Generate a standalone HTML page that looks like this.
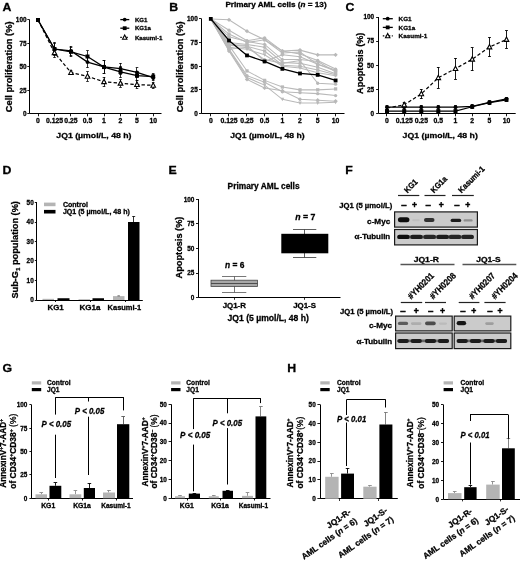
<!DOCTYPE html><html><head><meta charset="utf-8"><title>Figure</title><style>html,body{margin:0;padding:0;background:#fff;}svg{display:block;}text{font-family:'Liberation Sans', Arial, sans-serif;font-weight:bold;stroke:#000;stroke-width:0.28px;}</style></head><body>
<svg width="520" height="561" viewBox="0 0 520 561">
<rect width="520" height="561" fill="#fff"/>
<defs><filter id="bl" x="-50%" y="-100%" width="200%" height="300%"><feGaussianBlur stdDeviation="0.6"/></filter></defs>
<text transform="translate(2.6,11.1) scale(1.1,1)" font-size="11.2">A</text>
<line x1="29.5" y1="19.5" x2="29.5" y2="113.6" stroke="#000" stroke-width="1"/>
<line x1="27.3" y1="113.5" x2="29.5" y2="113.5" stroke="#000" stroke-width="0.9"/>
<text transform="translate(26.5,115.904)" font-size="6.4" text-anchor="end">0</text>
<line x1="27.3" y1="90.5" x2="29.5" y2="90.5" stroke="#000" stroke-width="0.9"/>
<text transform="translate(26.5,92.50399999999999)" font-size="6.4" text-anchor="end">25</text>
<line x1="27.3" y1="66.5" x2="29.5" y2="66.5" stroke="#000" stroke-width="0.9"/>
<text transform="translate(26.5,69.10399999999998)" font-size="6.4" text-anchor="end">50</text>
<line x1="27.3" y1="43.5" x2="29.5" y2="43.5" stroke="#000" stroke-width="0.9"/>
<text transform="translate(26.5,45.70399999999999)" font-size="6.4" text-anchor="end">75</text>
<line x1="27.3" y1="19.5" x2="29.5" y2="19.5" stroke="#000" stroke-width="0.9"/>
<text transform="translate(26.5,22.303999999999984)" font-size="6.4" text-anchor="end">100</text>
<line x1="29.5" y1="113.5" x2="161.5" y2="113.5" stroke="#000" stroke-width="1"/>
<line x1="38.5" y1="113.6" x2="38.5" y2="116.3" stroke="#000" stroke-width="0.9"/>
<text transform="translate(38,122.7) scale(1.05,1)" font-size="6.5" text-anchor="middle">0</text>
<line x1="54.5" y1="113.6" x2="54.5" y2="116.3" stroke="#000" stroke-width="0.9"/>
<text transform="translate(54.5,122.7) scale(1.05,1)" font-size="6.5" text-anchor="middle">0.125</text>
<line x1="70.5" y1="113.6" x2="70.5" y2="116.3" stroke="#000" stroke-width="0.9"/>
<text transform="translate(71,122.7) scale(1.05,1)" font-size="6.5" text-anchor="middle">0.25</text>
<line x1="87.5" y1="113.6" x2="87.5" y2="116.3" stroke="#000" stroke-width="0.9"/>
<text transform="translate(87.5,122.7) scale(1.05,1)" font-size="6.5" text-anchor="middle">0.5</text>
<line x1="104.5" y1="113.6" x2="104.5" y2="116.3" stroke="#000" stroke-width="0.9"/>
<text transform="translate(104,122.7) scale(1.05,1)" font-size="6.5" text-anchor="middle">1</text>
<line x1="120.5" y1="113.6" x2="120.5" y2="116.3" stroke="#000" stroke-width="0.9"/>
<text transform="translate(120.5,122.7) scale(1.05,1)" font-size="6.5" text-anchor="middle">2</text>
<line x1="136.5" y1="113.6" x2="136.5" y2="116.3" stroke="#000" stroke-width="0.9"/>
<text transform="translate(137,122.7) scale(1.05,1)" font-size="6.5" text-anchor="middle">5</text>
<line x1="153.5" y1="113.6" x2="153.5" y2="116.3" stroke="#000" stroke-width="0.9"/>
<text transform="translate(153.2,122.7) scale(1.05,1)" font-size="6.5" text-anchor="middle">10</text>
<text transform="translate(56.3,138.0) scale(1.1,1)" font-size="8.0" textLength="68.36" lengthAdjust="spacingAndGlyphs">JQ1 (µmol/L, 48 h)</text>
<text transform="translate(12.3,112.2) rotate(-90)" font-size="9.3" textLength="90.70" lengthAdjust="spacingAndGlyphs">Cell proliferation (%)</text>
<line x1="54.5" y1="43.39999999999999" x2="54.5" y2="54.63199999999999" stroke="#000" stroke-width="0.8"/>
<line x1="53.2" y1="43.5" x2="55.8" y2="43.5" stroke="#000" stroke-width="0.8"/>
<line x1="53.2" y1="54.5" x2="55.8" y2="54.5" stroke="#000" stroke-width="0.8"/>
<line x1="70.5" y1="46.207999999999984" x2="70.5" y2="55.56799999999999" stroke="#000" stroke-width="0.8"/>
<line x1="69.7" y1="46.5" x2="72.3" y2="46.5" stroke="#000" stroke-width="0.8"/>
<line x1="69.7" y1="55.5" x2="72.3" y2="55.5" stroke="#000" stroke-width="0.8"/>
<line x1="87.5" y1="56.50399999999999" x2="87.5" y2="67.73599999999999" stroke="#000" stroke-width="0.8"/>
<line x1="86.2" y1="56.5" x2="88.8" y2="56.5" stroke="#000" stroke-width="0.8"/>
<line x1="86.2" y1="67.5" x2="88.8" y2="67.5" stroke="#000" stroke-width="0.8"/>
<line x1="104.5" y1="60.24799999999999" x2="104.5" y2="73.35199999999999" stroke="#000" stroke-width="0.8"/>
<line x1="102.7" y1="60.5" x2="105.3" y2="60.5" stroke="#000" stroke-width="0.8"/>
<line x1="102.7" y1="73.5" x2="105.3" y2="73.5" stroke="#000" stroke-width="0.8"/>
<line x1="120.5" y1="63.05599999999999" x2="120.5" y2="74.28799999999998" stroke="#000" stroke-width="0.8"/>
<line x1="119.2" y1="63.5" x2="121.8" y2="63.5" stroke="#000" stroke-width="0.8"/>
<line x1="119.2" y1="74.5" x2="121.8" y2="74.5" stroke="#000" stroke-width="0.8"/>
<line x1="136.5" y1="67.73599999999999" x2="136.5" y2="77.09599999999999" stroke="#000" stroke-width="0.8"/>
<line x1="135.7" y1="67.5" x2="138.3" y2="67.5" stroke="#000" stroke-width="0.8"/>
<line x1="135.7" y1="77.5" x2="138.3" y2="77.5" stroke="#000" stroke-width="0.8"/>
<line x1="153.5" y1="74.756" x2="153.5" y2="80.37199999999999" stroke="#000" stroke-width="0.8"/>
<line x1="151.89999999999998" y1="74.5" x2="154.5" y2="74.5" stroke="#000" stroke-width="0.8"/>
<line x1="151.89999999999998" y1="80.5" x2="154.5" y2="80.5" stroke="#000" stroke-width="0.8"/>
<line x1="54.5" y1="42.463999999999984" x2="54.5" y2="55.56799999999999" stroke="#000" stroke-width="0.8"/>
<line x1="53.2" y1="42.5" x2="55.8" y2="42.5" stroke="#000" stroke-width="0.8"/>
<line x1="53.2" y1="55.5" x2="55.8" y2="55.5" stroke="#000" stroke-width="0.8"/>
<line x1="70.5" y1="47.14399999999999" x2="70.5" y2="56.50399999999999" stroke="#000" stroke-width="0.8"/>
<line x1="69.7" y1="47.5" x2="72.3" y2="47.5" stroke="#000" stroke-width="0.8"/>
<line x1="69.7" y1="56.5" x2="72.3" y2="56.5" stroke="#000" stroke-width="0.8"/>
<line x1="87.5" y1="50.88799999999999" x2="87.5" y2="62.11999999999999" stroke="#000" stroke-width="0.8"/>
<line x1="86.2" y1="50.5" x2="88.8" y2="50.5" stroke="#000" stroke-width="0.8"/>
<line x1="86.2" y1="62.5" x2="88.8" y2="62.5" stroke="#000" stroke-width="0.8"/>
<line x1="104.5" y1="60.52879999999999" x2="104.5" y2="73.63279999999999" stroke="#000" stroke-width="0.8"/>
<line x1="102.7" y1="60.5" x2="105.3" y2="60.5" stroke="#000" stroke-width="0.8"/>
<line x1="102.7" y1="73.5" x2="105.3" y2="73.5" stroke="#000" stroke-width="0.8"/>
<line x1="120.5" y1="66.332" x2="120.5" y2="77.564" stroke="#000" stroke-width="0.8"/>
<line x1="119.2" y1="66.5" x2="121.8" y2="66.5" stroke="#000" stroke-width="0.8"/>
<line x1="119.2" y1="77.5" x2="121.8" y2="77.5" stroke="#000" stroke-width="0.8"/>
<line x1="136.5" y1="71.012" x2="136.5" y2="80.37199999999999" stroke="#000" stroke-width="0.8"/>
<line x1="135.7" y1="71.5" x2="138.3" y2="71.5" stroke="#000" stroke-width="0.8"/>
<line x1="135.7" y1="80.5" x2="138.3" y2="80.5" stroke="#000" stroke-width="0.8"/>
<line x1="153.5" y1="73.82" x2="153.5" y2="79.43599999999999" stroke="#000" stroke-width="0.8"/>
<line x1="151.89999999999998" y1="73.5" x2="154.5" y2="73.5" stroke="#000" stroke-width="0.8"/>
<line x1="151.89999999999998" y1="79.5" x2="154.5" y2="79.5" stroke="#000" stroke-width="0.8"/>
<line x1="54.5" y1="48.079999999999984" x2="54.5" y2="57.43999999999999" stroke="#000" stroke-width="0.8"/>
<line x1="53.2" y1="48.5" x2="55.8" y2="48.5" stroke="#000" stroke-width="0.8"/>
<line x1="53.2" y1="57.5" x2="55.8" y2="57.5" stroke="#000" stroke-width="0.8"/>
<line x1="70.5" y1="70.7312" x2="70.5" y2="74.4752" stroke="#000" stroke-width="0.8"/>
<line x1="69.7" y1="70.5" x2="72.3" y2="70.5" stroke="#000" stroke-width="0.8"/>
<line x1="69.7" y1="74.5" x2="72.3" y2="74.5" stroke="#000" stroke-width="0.8"/>
<line x1="87.5" y1="71.6672" x2="87.5" y2="81.0272" stroke="#000" stroke-width="0.8"/>
<line x1="86.2" y1="71.5" x2="88.8" y2="71.5" stroke="#000" stroke-width="0.8"/>
<line x1="86.2" y1="81.5" x2="88.8" y2="81.5" stroke="#000" stroke-width="0.8"/>
<line x1="104.5" y1="77.09599999999999" x2="104.5" y2="86.45599999999999" stroke="#000" stroke-width="0.8"/>
<line x1="102.7" y1="77.5" x2="105.3" y2="77.5" stroke="#000" stroke-width="0.8"/>
<line x1="102.7" y1="86.5" x2="105.3" y2="86.5" stroke="#000" stroke-width="0.8"/>
<line x1="120.5" y1="79.52959999999999" x2="120.5" y2="87.01759999999999" stroke="#000" stroke-width="0.8"/>
<line x1="119.2" y1="79.5" x2="121.8" y2="79.5" stroke="#000" stroke-width="0.8"/>
<line x1="119.2" y1="87.5" x2="121.8" y2="87.5" stroke="#000" stroke-width="0.8"/>
<line x1="136.5" y1="80.83999999999999" x2="136.5" y2="88.32799999999999" stroke="#000" stroke-width="0.8"/>
<line x1="135.7" y1="80.5" x2="138.3" y2="80.5" stroke="#000" stroke-width="0.8"/>
<line x1="135.7" y1="88.5" x2="138.3" y2="88.5" stroke="#000" stroke-width="0.8"/>
<line x1="153.5" y1="82.52479999999998" x2="153.5" y2="88.1408" stroke="#000" stroke-width="0.8"/>
<line x1="151.89999999999998" y1="82.5" x2="154.5" y2="82.5" stroke="#000" stroke-width="0.8"/>
<line x1="151.89999999999998" y1="88.5" x2="154.5" y2="88.5" stroke="#000" stroke-width="0.8"/>
<polyline points="38.00,20.00 54.50,52.76 71.00,72.60 87.50,76.35 104.00,81.78 120.50,83.27 137.00,84.58 153.20,85.33" fill="none" stroke="#000" stroke-width="1.2" stroke-dasharray="3.4,2.2"/>
<polyline points="38.00,20.00 54.50,49.02 71.00,50.89 87.50,62.12 104.00,66.80 120.50,68.67 137.00,72.42 153.20,77.56" fill="none" stroke="#000" stroke-width="1.25"/>
<polyline points="38.00,20.00 54.50,49.02 71.00,51.82 87.50,56.50 104.00,67.08 120.50,71.95 137.00,75.69 153.20,76.63" fill="none" stroke="#000" stroke-width="1.25"/>
<circle cx="38.00" cy="20.00" r="1.95" fill="#000"/>
<circle cx="54.50" cy="49.02" r="1.95" fill="#000"/>
<circle cx="71.00" cy="50.89" r="1.95" fill="#000"/>
<circle cx="87.50" cy="62.12" r="1.95" fill="#000"/>
<circle cx="104.00" cy="66.80" r="1.95" fill="#000"/>
<circle cx="120.50" cy="68.67" r="1.95" fill="#000"/>
<circle cx="137.00" cy="72.42" r="1.95" fill="#000"/>
<circle cx="153.20" cy="77.56" r="1.95" fill="#000"/>
<rect x="36.00" y="18.00" width="4.00" height="4.00" fill="#000"/>
<rect x="52.50" y="47.02" width="4.00" height="4.00" fill="#000"/>
<rect x="69.00" y="49.82" width="4.00" height="4.00" fill="#000"/>
<rect x="85.50" y="54.50" width="4.00" height="4.00" fill="#000"/>
<rect x="102.00" y="65.08" width="4.00" height="4.00" fill="#000"/>
<rect x="118.50" y="69.95" width="4.00" height="4.00" fill="#000"/>
<rect x="135.00" y="73.69" width="4.00" height="4.00" fill="#000"/>
<rect x="151.20" y="74.63" width="4.00" height="4.00" fill="#000"/>
<polygon points="54.50,50.24 56.81,54.65 52.19,54.65" fill="#fff" stroke="#000" stroke-width="1.1"/>
<polygon points="71.00,70.08 73.31,74.49 68.69,74.49" fill="#fff" stroke="#000" stroke-width="1.1"/>
<polygon points="87.50,73.83 89.81,78.24 85.19,78.24" fill="#fff" stroke="#000" stroke-width="1.1"/>
<polygon points="104.00,79.26 106.31,83.67 101.69,83.67" fill="#fff" stroke="#000" stroke-width="1.1"/>
<polygon points="120.50,80.75 122.81,85.16 118.19,85.16" fill="#fff" stroke="#000" stroke-width="1.1"/>
<polygon points="137.00,82.06 139.31,86.47 134.69,86.47" fill="#fff" stroke="#000" stroke-width="1.1"/>
<polygon points="153.20,82.81 155.51,87.22 150.89,87.22" fill="#fff" stroke="#000" stroke-width="1.1"/>
<line x1="120.3" y1="19.6" x2="129.3" y2="19.6" stroke="#000" stroke-width="1.3"/>
<circle cx="124.70" cy="19.60" r="1.90" fill="#000"/>
<text transform="translate(134.9,21.6) scale(1.04,1)" font-size="5.9">KG1</text>
<line x1="120.3" y1="28.2" x2="129.3" y2="28.2" stroke="#000" stroke-width="1.3"/>
<rect x="122.80" y="26.30" width="3.80" height="3.80" fill="#000"/>
<text transform="translate(134.9,30.3) scale(1.04,1)" font-size="5.9">KG1a</text>
<line x1="120.3" y1="37.4" x2="129.3" y2="37.4" stroke="#000" stroke-width="1.2" stroke-dasharray="1.5,1.5"/>
<polygon points="124.70,35.00 126.90,39.20 122.50,39.20" fill="#fff" stroke="#000" stroke-width="1.1"/>
<text transform="translate(134.9,39.6) scale(1.04,1)" font-size="5.9">Kasumi-1</text>
<text transform="translate(169.2,11.1) scale(1.1,1)" font-size="11.2">B</text>
<line x1="201.5" y1="18.5" x2="201.5" y2="113.5" stroke="#000" stroke-width="1"/>
<line x1="199.0" y1="113.5" x2="201.3" y2="113.5" stroke="#000" stroke-width="0.9"/>
<text transform="translate(197.7,115.804)" font-size="6.4" text-anchor="end">0</text>
<line x1="199.0" y1="89.5" x2="201.3" y2="89.5" stroke="#000" stroke-width="0.9"/>
<text transform="translate(197.7,92.154)" font-size="6.4" text-anchor="end">25</text>
<line x1="199.0" y1="66.5" x2="201.3" y2="66.5" stroke="#000" stroke-width="0.9"/>
<text transform="translate(197.7,68.504)" font-size="6.4" text-anchor="end">50</text>
<line x1="199.0" y1="42.5" x2="201.3" y2="42.5" stroke="#000" stroke-width="0.9"/>
<text transform="translate(197.7,44.854)" font-size="6.4" text-anchor="end">75</text>
<line x1="199.0" y1="18.5" x2="201.3" y2="18.5" stroke="#000" stroke-width="0.9"/>
<text transform="translate(197.7,21.204000000000004)" font-size="6.4" text-anchor="end">100</text>
<line x1="201.3" y1="113.5" x2="344.5" y2="113.5" stroke="#000" stroke-width="1"/>
<line x1="210.5" y1="113.5" x2="210.5" y2="116.3" stroke="#000" stroke-width="0.9"/>
<text transform="translate(210.8,122.7) scale(1.05,1)" font-size="6.5" text-anchor="middle">0</text>
<line x1="228.5" y1="113.5" x2="228.5" y2="116.3" stroke="#000" stroke-width="0.9"/>
<text transform="translate(229,122.7) scale(1.05,1)" font-size="6.5" text-anchor="middle">0.125</text>
<line x1="246.5" y1="113.5" x2="246.5" y2="116.3" stroke="#000" stroke-width="0.9"/>
<text transform="translate(247,122.7) scale(1.05,1)" font-size="6.5" text-anchor="middle">0.25</text>
<line x1="264.5" y1="113.5" x2="264.5" y2="116.3" stroke="#000" stroke-width="0.9"/>
<text transform="translate(264.6,122.7) scale(1.05,1)" font-size="6.5" text-anchor="middle">0.5</text>
<line x1="282.5" y1="113.5" x2="282.5" y2="116.3" stroke="#000" stroke-width="0.9"/>
<text transform="translate(282.4,122.7) scale(1.05,1)" font-size="6.5" text-anchor="middle">1</text>
<line x1="300.5" y1="113.5" x2="300.5" y2="116.3" stroke="#000" stroke-width="0.9"/>
<text transform="translate(300,122.7) scale(1.05,1)" font-size="6.5" text-anchor="middle">2</text>
<line x1="317.5" y1="113.5" x2="317.5" y2="116.3" stroke="#000" stroke-width="0.9"/>
<text transform="translate(317.7,122.7) scale(1.05,1)" font-size="6.5" text-anchor="middle">5</text>
<line x1="335.5" y1="113.5" x2="335.5" y2="116.3" stroke="#000" stroke-width="0.9"/>
<text transform="translate(335.6,122.7) scale(1.05,1)" font-size="6.5" text-anchor="middle">10</text>
<text transform="translate(230.2,138.0) scale(1.1,1)" font-size="8.0" textLength="67.73" lengthAdjust="spacingAndGlyphs">JQ1 (µmol/L, 48 h)</text>
<text transform="translate(182.8,112.2) rotate(-90)" font-size="9.3" textLength="90.70" lengthAdjust="spacingAndGlyphs">Cell proliferation (%)</text>
<text transform="translate(225.4,6.6) scale(1.1,1)" font-size="7.5" textLength="92.00" lengthAdjust="spacingAndGlyphs">Primary AML cells (<tspan font-style="italic">n</tspan> = 13)</text>
<polyline points="210.80,18.90 229.00,19.85 247.00,31.20 264.60,39.71 282.40,51.06 300.00,50.12 317.70,54.85 335.60,54.85" fill="none" stroke="#b9b9b9" stroke-width="1.05"/>
<polyline points="210.80,18.90 229.00,30.25 247.00,40.66 264.60,37.82 282.40,51.06 300.00,53.90 317.70,60.52 335.60,69.04" fill="none" stroke="#b9b9b9" stroke-width="1.05"/>
<polyline points="210.80,18.90 229.00,34.04 247.00,42.55 264.60,39.71 282.40,52.96 300.00,52.01 317.70,64.31 335.60,70.93" fill="none" stroke="#b9b9b9" stroke-width="1.05"/>
<polyline points="210.80,18.90 229.00,36.87 247.00,41.60 264.60,44.44 282.40,59.58 300.00,59.58 317.70,61.47 335.60,71.88" fill="none" stroke="#b9b9b9" stroke-width="1.05"/>
<polyline points="210.80,18.90 229.00,42.55 247.00,44.44 264.60,47.28 282.40,62.42 300.00,63.36 317.70,67.15 335.60,73.77" fill="none" stroke="#b9b9b9" stroke-width="1.05"/>
<polyline points="210.80,18.90 229.00,45.39 247.00,46.33 264.60,51.06 282.40,65.25 300.00,66.20 317.70,69.98 335.60,74.71" fill="none" stroke="#b9b9b9" stroke-width="1.05"/>
<polyline points="210.80,18.90 229.00,47.28 247.00,49.17 264.60,54.85 282.40,66.20 300.00,68.09 317.70,72.82 335.60,75.66" fill="none" stroke="#b9b9b9" stroke-width="1.05"/>
<polyline points="210.80,18.90 229.00,49.17 247.00,47.28 264.60,59.58 282.40,63.36 300.00,60.52 317.70,83.23 335.60,84.17" fill="none" stroke="#b9b9b9" stroke-width="1.05"/>
<polyline points="210.80,18.90 229.00,44.44 247.00,45.39 264.60,61.47 282.40,54.85 300.00,56.74 317.70,64.31 335.60,69.98" fill="none" stroke="#b9b9b9" stroke-width="1.05"/>
<polyline points="210.80,18.90 229.00,45.39 247.00,70.93 264.60,80.39 282.40,87.01 300.00,89.85 317.70,89.85 335.60,88.90" fill="none" stroke="#b9b9b9" stroke-width="1.05"/>
<polyline points="210.80,18.90 229.00,49.17 247.00,75.66 264.60,82.28 282.40,91.74 300.00,92.69 317.70,93.63 335.60,95.53" fill="none" stroke="#b9b9b9" stroke-width="1.05"/>
<polyline points="210.80,18.90 229.00,51.06 247.00,79.44 264.60,87.96 282.40,90.80 300.00,99.31 317.70,100.26 335.60,101.20" fill="none" stroke="#b9b9b9" stroke-width="1.05"/>
<polyline points="210.80,18.90 229.00,50.12 247.00,77.55 264.60,85.12 282.40,99.31 300.00,103.09 317.70,103.09 335.60,102.15" fill="none" stroke="#b9b9b9" stroke-width="1.05"/>
<polygon points="229.00,17.70 231.15,19.85 229.00,21.99 226.85,19.85" fill="#b9b9b9"/>
<polygon points="247.00,29.05 249.15,31.20 247.00,33.34 244.85,31.20" fill="#b9b9b9"/>
<polygon points="264.60,37.57 266.75,39.71 264.60,41.86 262.46,39.71" fill="#b9b9b9"/>
<polygon points="282.40,48.92 284.54,51.06 282.40,53.21 280.25,51.06" fill="#b9b9b9"/>
<polygon points="300.00,47.97 302.14,50.12 300.00,52.26 297.86,50.12" fill="#b9b9b9"/>
<polygon points="317.70,52.70 319.84,54.85 317.70,56.99 315.56,54.85" fill="#b9b9b9"/>
<polygon points="335.60,52.70 337.75,54.85 335.60,56.99 333.46,54.85" fill="#b9b9b9"/>
<circle cx="229.00" cy="30.25" r="1.65" fill="#b9b9b9"/>
<circle cx="247.00" cy="40.66" r="1.65" fill="#b9b9b9"/>
<circle cx="264.60" cy="37.82" r="1.65" fill="#b9b9b9"/>
<circle cx="282.40" cy="51.06" r="1.65" fill="#b9b9b9"/>
<circle cx="300.00" cy="53.90" r="1.65" fill="#b9b9b9"/>
<circle cx="317.70" cy="60.52" r="1.65" fill="#b9b9b9"/>
<circle cx="335.60" cy="69.04" r="1.65" fill="#b9b9b9"/>
<rect x="227.35" y="32.39" width="3.30" height="3.30" fill="#b9b9b9"/>
<rect x="245.35" y="40.90" width="3.30" height="3.30" fill="#b9b9b9"/>
<rect x="262.95" y="38.06" width="3.30" height="3.30" fill="#b9b9b9"/>
<rect x="280.75" y="51.31" width="3.30" height="3.30" fill="#b9b9b9"/>
<rect x="298.35" y="50.36" width="3.30" height="3.30" fill="#b9b9b9"/>
<rect x="316.05" y="62.66" width="3.30" height="3.30" fill="#b9b9b9"/>
<rect x="333.95" y="69.28" width="3.30" height="3.30" fill="#b9b9b9"/>
<polygon points="229.00,34.73 231.15,36.87 229.00,39.02 226.85,36.87" fill="#b9b9b9"/>
<polygon points="247.00,39.46 249.15,41.60 247.00,43.75 244.85,41.60" fill="#b9b9b9"/>
<polygon points="264.60,42.30 266.75,44.44 264.60,46.59 262.46,44.44" fill="#b9b9b9"/>
<polygon points="282.40,57.43 284.54,59.58 282.40,61.72 280.25,59.58" fill="#b9b9b9"/>
<polygon points="300.00,57.43 302.14,59.58 300.00,61.72 297.86,59.58" fill="#b9b9b9"/>
<polygon points="317.70,59.33 319.84,61.47 317.70,63.62 315.56,61.47" fill="#b9b9b9"/>
<polygon points="335.60,69.73 337.75,71.88 335.60,74.02 333.46,71.88" fill="#b9b9b9"/>
<circle cx="229.00" cy="42.55" r="1.65" fill="#b9b9b9"/>
<circle cx="247.00" cy="44.44" r="1.65" fill="#b9b9b9"/>
<circle cx="264.60" cy="47.28" r="1.65" fill="#b9b9b9"/>
<circle cx="282.40" cy="62.42" r="1.65" fill="#b9b9b9"/>
<circle cx="300.00" cy="63.36" r="1.65" fill="#b9b9b9"/>
<circle cx="317.70" cy="67.15" r="1.65" fill="#b9b9b9"/>
<circle cx="335.60" cy="73.77" r="1.65" fill="#b9b9b9"/>
<rect x="227.35" y="43.74" width="3.30" height="3.30" fill="#b9b9b9"/>
<rect x="245.35" y="44.68" width="3.30" height="3.30" fill="#b9b9b9"/>
<rect x="262.95" y="49.41" width="3.30" height="3.30" fill="#b9b9b9"/>
<rect x="280.75" y="63.60" width="3.30" height="3.30" fill="#b9b9b9"/>
<rect x="298.35" y="64.55" width="3.30" height="3.30" fill="#b9b9b9"/>
<rect x="316.05" y="68.33" width="3.30" height="3.30" fill="#b9b9b9"/>
<rect x="333.95" y="73.06" width="3.30" height="3.30" fill="#b9b9b9"/>
<polygon points="229.00,49.26 230.81,45.80 227.19,45.80" fill="#b9b9b9"/>
<polygon points="247.00,51.15 248.81,47.69 245.19,47.69" fill="#b9b9b9"/>
<polygon points="264.60,56.83 266.42,53.36 262.79,53.36" fill="#b9b9b9"/>
<polygon points="282.40,68.18 284.21,64.72 280.58,64.72" fill="#b9b9b9"/>
<polygon points="300.00,70.07 301.81,66.61 298.19,66.61" fill="#b9b9b9"/>
<polygon points="317.70,74.80 319.51,71.34 315.88,71.34" fill="#b9b9b9"/>
<polygon points="335.60,77.64 337.42,74.17 333.79,74.17" fill="#b9b9b9"/>
<circle cx="229.00" cy="49.17" r="1.65" fill="#b9b9b9"/>
<circle cx="247.00" cy="47.28" r="1.65" fill="#b9b9b9"/>
<circle cx="264.60" cy="59.58" r="1.65" fill="#b9b9b9"/>
<circle cx="282.40" cy="63.36" r="1.65" fill="#b9b9b9"/>
<circle cx="300.00" cy="60.52" r="1.65" fill="#b9b9b9"/>
<circle cx="317.70" cy="83.23" r="1.65" fill="#b9b9b9"/>
<circle cx="335.60" cy="84.17" r="1.65" fill="#b9b9b9"/>
<polygon points="229.00,42.30 231.15,44.44 229.00,46.59 226.85,44.44" fill="#b9b9b9"/>
<polygon points="247.00,43.24 249.15,45.39 247.00,47.53 244.85,45.39" fill="#b9b9b9"/>
<polygon points="264.60,59.33 266.75,61.47 264.60,63.62 262.46,61.47" fill="#b9b9b9"/>
<polygon points="282.40,52.70 284.54,54.85 282.40,56.99 280.25,54.85" fill="#b9b9b9"/>
<polygon points="300.00,54.59 302.14,56.74 300.00,58.89 297.86,56.74" fill="#b9b9b9"/>
<polygon points="317.70,62.16 319.84,64.31 317.70,66.45 315.56,64.31" fill="#b9b9b9"/>
<polygon points="335.60,67.84 337.75,69.98 335.60,72.13 333.46,69.98" fill="#b9b9b9"/>
<rect x="227.35" y="43.74" width="3.30" height="3.30" fill="#b9b9b9"/>
<rect x="245.35" y="69.28" width="3.30" height="3.30" fill="#b9b9b9"/>
<rect x="262.95" y="78.74" width="3.30" height="3.30" fill="#b9b9b9"/>
<rect x="280.75" y="85.36" width="3.30" height="3.30" fill="#b9b9b9"/>
<rect x="298.35" y="88.20" width="3.30" height="3.30" fill="#b9b9b9"/>
<rect x="316.05" y="88.20" width="3.30" height="3.30" fill="#b9b9b9"/>
<rect x="333.95" y="87.25" width="3.30" height="3.30" fill="#b9b9b9"/>
<circle cx="229.00" cy="49.17" r="1.65" fill="#b9b9b9"/>
<circle cx="247.00" cy="75.66" r="1.65" fill="#b9b9b9"/>
<circle cx="264.60" cy="82.28" r="1.65" fill="#b9b9b9"/>
<circle cx="282.40" cy="91.74" r="1.65" fill="#b9b9b9"/>
<circle cx="300.00" cy="92.69" r="1.65" fill="#b9b9b9"/>
<circle cx="317.70" cy="93.63" r="1.65" fill="#b9b9b9"/>
<circle cx="335.60" cy="95.53" r="1.65" fill="#b9b9b9"/>
<polygon points="229.00,48.92 231.15,51.06 229.00,53.21 226.85,51.06" fill="#b9b9b9"/>
<polygon points="247.00,77.30 249.15,79.44 247.00,81.59 244.85,79.44" fill="#b9b9b9"/>
<polygon points="264.60,85.81 266.75,87.96 264.60,90.10 262.46,87.96" fill="#b9b9b9"/>
<polygon points="282.40,88.65 284.54,90.80 282.40,92.94 280.25,90.80" fill="#b9b9b9"/>
<polygon points="300.00,97.17 302.14,99.31 300.00,101.45 297.86,99.31" fill="#b9b9b9"/>
<polygon points="317.70,98.11 319.84,100.26 317.70,102.40 315.56,100.26" fill="#b9b9b9"/>
<polygon points="335.60,99.06 337.75,101.20 335.60,103.35 333.46,101.20" fill="#b9b9b9"/>
<polygon points="229.00,52.10 230.81,48.63 227.19,48.63" fill="#b9b9b9"/>
<polygon points="247.00,79.53 248.81,76.07 245.19,76.07" fill="#b9b9b9"/>
<polygon points="264.60,87.10 266.42,83.64 262.79,83.64" fill="#b9b9b9"/>
<polygon points="282.40,101.29 284.21,97.83 280.58,97.83" fill="#b9b9b9"/>
<polygon points="300.00,105.07 301.81,101.61 298.19,101.61" fill="#b9b9b9"/>
<polygon points="317.70,105.07 319.51,101.61 315.88,101.61" fill="#b9b9b9"/>
<polygon points="335.60,104.13 337.42,100.66 333.79,100.66" fill="#b9b9b9"/>
<polyline points="210.80,18.90 229.00,40.47 247.00,55.42 264.60,61.47 282.40,68.85 300.00,73.48 317.70,74.90 335.60,80.48" fill="none" stroke="#000" stroke-width="1.3"/>
<rect x="208.90" y="17.00" width="3.80" height="3.80" fill="#000"/>
<rect x="227.10" y="38.57" width="3.80" height="3.80" fill="#000"/>
<rect x="245.10" y="53.52" width="3.80" height="3.80" fill="#000"/>
<rect x="262.70" y="59.57" width="3.80" height="3.80" fill="#000"/>
<rect x="280.50" y="66.95" width="3.80" height="3.80" fill="#000"/>
<rect x="298.10" y="71.58" width="3.80" height="3.80" fill="#000"/>
<rect x="315.80" y="73.00" width="3.80" height="3.80" fill="#000"/>
<rect x="333.70" y="78.58" width="3.80" height="3.80" fill="#000"/>
<text transform="translate(345.5,11.1) scale(1.1,1)" font-size="11.2">C</text>
<line x1="378.5" y1="17" x2="378.5" y2="113.3" stroke="#000" stroke-width="1"/>
<line x1="376.1" y1="113.5" x2="378.3" y2="113.5" stroke="#000" stroke-width="0.9"/>
<text transform="translate(374.1,115.604)" font-size="6.4" text-anchor="end">0</text>
<line x1="376.1" y1="89.5" x2="378.3" y2="89.5" stroke="#000" stroke-width="0.9"/>
<text transform="translate(374.1,91.554)" font-size="6.4" text-anchor="end">25</text>
<line x1="376.1" y1="65.5" x2="378.3" y2="65.5" stroke="#000" stroke-width="0.9"/>
<text transform="translate(374.1,67.50399999999999)" font-size="6.4" text-anchor="end">50</text>
<line x1="376.1" y1="41.5" x2="378.3" y2="41.5" stroke="#000" stroke-width="0.9"/>
<text transform="translate(374.1,43.45400000000001)" font-size="6.4" text-anchor="end">75</text>
<line x1="376.1" y1="17.5" x2="378.3" y2="17.5" stroke="#000" stroke-width="0.9"/>
<text transform="translate(374.1,19.403999999999993)" font-size="6.4" text-anchor="end">100</text>
<line x1="378.3" y1="113.5" x2="515.7" y2="113.5" stroke="#000" stroke-width="1"/>
<line x1="386.5" y1="113.3" x2="386.5" y2="116.3" stroke="#000" stroke-width="0.9"/>
<text transform="translate(387,122.7) scale(1.05,1)" font-size="6.5" text-anchor="middle">0</text>
<line x1="404.5" y1="113.3" x2="404.5" y2="116.3" stroke="#000" stroke-width="0.9"/>
<text transform="translate(404.2,122.7) scale(1.05,1)" font-size="6.5" text-anchor="middle">0.125</text>
<line x1="421.5" y1="113.3" x2="421.5" y2="116.3" stroke="#000" stroke-width="0.9"/>
<text transform="translate(421.3,122.7) scale(1.05,1)" font-size="6.5" text-anchor="middle">0.25</text>
<line x1="438.5" y1="113.3" x2="438.5" y2="116.3" stroke="#000" stroke-width="0.9"/>
<text transform="translate(438.3,122.7) scale(1.05,1)" font-size="6.5" text-anchor="middle">0.5</text>
<line x1="455.5" y1="113.3" x2="455.5" y2="116.3" stroke="#000" stroke-width="0.9"/>
<text transform="translate(455.5,122.7) scale(1.05,1)" font-size="6.5" text-anchor="middle">1</text>
<line x1="472.5" y1="113.3" x2="472.5" y2="116.3" stroke="#000" stroke-width="0.9"/>
<text transform="translate(472.2,122.7) scale(1.05,1)" font-size="6.5" text-anchor="middle">2</text>
<line x1="489.5" y1="113.3" x2="489.5" y2="116.3" stroke="#000" stroke-width="0.9"/>
<text transform="translate(489.5,122.7) scale(1.05,1)" font-size="6.5" text-anchor="middle">5</text>
<line x1="506.5" y1="113.3" x2="506.5" y2="116.3" stroke="#000" stroke-width="0.9"/>
<text transform="translate(506.5,122.7) scale(1.05,1)" font-size="6.5" text-anchor="middle">10</text>
<text transform="translate(402.6,138.0) scale(1.1,1)" font-size="8.0" textLength="68.36" lengthAdjust="spacingAndGlyphs">JQ1 (µmol/L, 48 h)</text>
<text transform="translate(362.8,93.9) rotate(-90)" font-size="9.3" textLength="61.20" lengthAdjust="spacingAndGlyphs">Apoptosis (%)</text>
<line x1="386.5" y1="106.085" x2="386.5" y2="109.93299999999999" stroke="#000" stroke-width="0.9"/>
<line x1="385.6" y1="106.5" x2="388.4" y2="106.5" stroke="#000" stroke-width="0.9"/>
<line x1="385.6" y1="109.5" x2="388.4" y2="109.5" stroke="#000" stroke-width="0.9"/>
<line x1="404.5" y1="102.4294" x2="404.5" y2="107.23939999999999" stroke="#000" stroke-width="0.9"/>
<line x1="402.8" y1="102.5" x2="405.59999999999997" y2="102.5" stroke="#000" stroke-width="0.9"/>
<line x1="402.8" y1="107.5" x2="405.59999999999997" y2="107.5" stroke="#000" stroke-width="0.9"/>
<line x1="421.5" y1="89.0576" x2="421.5" y2="98.6776" stroke="#000" stroke-width="0.9"/>
<line x1="419.90000000000003" y1="89.5" x2="422.7" y2="89.5" stroke="#000" stroke-width="0.9"/>
<line x1="419.90000000000003" y1="98.5" x2="422.7" y2="98.5" stroke="#000" stroke-width="0.9"/>
<line x1="438.5" y1="67.124" x2="438.5" y2="88.288" stroke="#000" stroke-width="0.9"/>
<line x1="436.90000000000003" y1="67.5" x2="439.7" y2="67.5" stroke="#000" stroke-width="0.9"/>
<line x1="436.90000000000003" y1="88.5" x2="439.7" y2="88.5" stroke="#000" stroke-width="0.9"/>
<line x1="455.5" y1="58.0812" x2="455.5" y2="79.2452" stroke="#000" stroke-width="0.9"/>
<line x1="454.1" y1="58.5" x2="456.9" y2="58.5" stroke="#000" stroke-width="0.9"/>
<line x1="454.1" y1="79.5" x2="456.9" y2="79.5" stroke="#000" stroke-width="0.9"/>
<line x1="472.5" y1="47.691599999999994" x2="472.5" y2="70.77959999999999" stroke="#000" stroke-width="0.9"/>
<line x1="470.8" y1="47.5" x2="473.59999999999997" y2="47.5" stroke="#000" stroke-width="0.9"/>
<line x1="470.8" y1="70.5" x2="473.59999999999997" y2="70.5" stroke="#000" stroke-width="0.9"/>
<line x1="489.5" y1="37.39819999999999" x2="489.5" y2="56.63819999999999" stroke="#000" stroke-width="0.9"/>
<line x1="488.1" y1="37.5" x2="490.9" y2="37.5" stroke="#000" stroke-width="0.9"/>
<line x1="488.1" y1="56.5" x2="490.9" y2="56.5" stroke="#000" stroke-width="0.9"/>
<line x1="506.5" y1="30.8566" x2="506.5" y2="48.1726" stroke="#000" stroke-width="0.9"/>
<line x1="505.1" y1="30.5" x2="507.9" y2="30.5" stroke="#000" stroke-width="0.9"/>
<line x1="505.1" y1="48.5" x2="507.9" y2="48.5" stroke="#000" stroke-width="0.9"/>
<line x1="386.5" y1="105.79639999999999" x2="386.5" y2="112.5304" stroke="#000" stroke-width="0.9"/>
<line x1="385.6" y1="105.5" x2="388.4" y2="105.5" stroke="#000" stroke-width="0.9"/>
<line x1="385.6" y1="112.5" x2="388.4" y2="112.5" stroke="#000" stroke-width="0.9"/>
<line x1="404.5" y1="105.79639999999999" x2="404.5" y2="112.5304" stroke="#000" stroke-width="0.9"/>
<line x1="402.8" y1="105.5" x2="405.59999999999997" y2="105.5" stroke="#000" stroke-width="0.9"/>
<line x1="402.8" y1="112.5" x2="405.59999999999997" y2="112.5" stroke="#000" stroke-width="0.9"/>
<line x1="421.5" y1="105.79639999999999" x2="421.5" y2="112.5304" stroke="#000" stroke-width="0.9"/>
<line x1="419.90000000000003" y1="105.5" x2="422.7" y2="105.5" stroke="#000" stroke-width="0.9"/>
<line x1="419.90000000000003" y1="112.5" x2="422.7" y2="112.5" stroke="#000" stroke-width="0.9"/>
<line x1="438.5" y1="105.79639999999999" x2="438.5" y2="112.5304" stroke="#000" stroke-width="0.9"/>
<line x1="436.90000000000003" y1="105.5" x2="439.7" y2="105.5" stroke="#000" stroke-width="0.9"/>
<line x1="436.90000000000003" y1="112.5" x2="439.7" y2="112.5" stroke="#000" stroke-width="0.9"/>
<line x1="455.5" y1="105.79639999999999" x2="455.5" y2="112.5304" stroke="#000" stroke-width="0.9"/>
<line x1="454.1" y1="105.5" x2="456.9" y2="105.5" stroke="#000" stroke-width="0.9"/>
<line x1="454.1" y1="112.5" x2="456.9" y2="112.5" stroke="#000" stroke-width="0.9"/>
<line x1="472.5" y1="104.9306" x2="472.5" y2="108.20139999999999" stroke="#000" stroke-width="0.9"/>
<line x1="470.8" y1="104.5" x2="473.59999999999997" y2="104.5" stroke="#000" stroke-width="0.9"/>
<line x1="470.8" y1="108.5" x2="473.59999999999997" y2="108.5" stroke="#000" stroke-width="0.9"/>
<line x1="489.5" y1="100.9864" x2="489.5" y2="104.161" stroke="#000" stroke-width="0.9"/>
<line x1="488.1" y1="100.5" x2="490.9" y2="100.5" stroke="#000" stroke-width="0.9"/>
<line x1="488.1" y1="104.5" x2="490.9" y2="104.5" stroke="#000" stroke-width="0.9"/>
<line x1="506.5" y1="97.42699999999999" x2="506.5" y2="101.27499999999999" stroke="#000" stroke-width="0.9"/>
<line x1="505.1" y1="97.5" x2="507.9" y2="97.5" stroke="#000" stroke-width="0.9"/>
<line x1="505.1" y1="101.5" x2="507.9" y2="101.5" stroke="#000" stroke-width="0.9"/>
<polyline points="387.00,108.01 404.20,104.83 421.30,93.87 438.30,77.71 455.50,68.66 472.20,59.24 489.50,47.02 506.50,39.51" fill="none" stroke="#000" stroke-width="1.2" stroke-dasharray="3.4,2.2"/>
<polyline points="387.00,107.24 404.20,107.24 421.30,107.24 438.30,107.24 455.50,107.24 472.20,106.37 489.50,102.43 506.50,98.87" fill="none" stroke="#000" stroke-width="1.25"/>
<polyline points="387.00,111.09 404.20,111.09 421.30,111.09 438.30,111.09 455.50,111.09 472.20,106.76 489.50,102.72 506.50,99.83" fill="none" stroke="#000" stroke-width="1.25"/>
<circle cx="387.00" cy="107.24" r="1.95" fill="#000"/>
<circle cx="404.20" cy="107.24" r="1.95" fill="#000"/>
<circle cx="421.30" cy="107.24" r="1.95" fill="#000"/>
<circle cx="438.30" cy="107.24" r="1.95" fill="#000"/>
<circle cx="455.50" cy="107.24" r="1.95" fill="#000"/>
<circle cx="472.20" cy="106.37" r="1.95" fill="#000"/>
<circle cx="489.50" cy="102.43" r="1.95" fill="#000"/>
<circle cx="506.50" cy="98.87" r="1.95" fill="#000"/>
<rect x="385.00" y="109.09" width="4.00" height="4.00" fill="#000"/>
<rect x="402.20" y="109.09" width="4.00" height="4.00" fill="#000"/>
<rect x="419.30" y="109.09" width="4.00" height="4.00" fill="#000"/>
<rect x="436.30" y="109.09" width="4.00" height="4.00" fill="#000"/>
<rect x="453.50" y="109.09" width="4.00" height="4.00" fill="#000"/>
<rect x="470.20" y="104.76" width="4.00" height="4.00" fill="#000"/>
<rect x="487.50" y="100.72" width="4.00" height="4.00" fill="#000"/>
<rect x="504.50" y="97.83" width="4.00" height="4.00" fill="#000"/>
<polygon points="404.20,102.31 406.51,106.72 401.89,106.72" fill="#fff" stroke="#000" stroke-width="1.1"/>
<polygon points="421.30,91.35 423.61,95.76 418.99,95.76" fill="#fff" stroke="#000" stroke-width="1.1"/>
<polygon points="438.30,75.19 440.61,79.60 435.99,79.60" fill="#fff" stroke="#000" stroke-width="1.1"/>
<polygon points="455.50,66.14 457.81,70.55 453.19,70.55" fill="#fff" stroke="#000" stroke-width="1.1"/>
<polygon points="472.20,56.72 474.51,61.13 469.89,61.13" fill="#fff" stroke="#000" stroke-width="1.1"/>
<polygon points="489.50,44.50 491.81,48.91 487.19,48.91" fill="#fff" stroke="#000" stroke-width="1.1"/>
<polygon points="506.50,36.99 508.81,41.40 504.19,41.40" fill="#fff" stroke="#000" stroke-width="1.1"/>
<line x1="382.8" y1="18.7" x2="392.8" y2="18.7" stroke="#000" stroke-width="1.3"/>
<circle cx="387.70" cy="18.70" r="1.90" fill="#000"/>
<text transform="translate(398.6,20.8) scale(1.06,1)" font-size="6.0">KG1</text>
<line x1="382.8" y1="27.4" x2="392.8" y2="27.4" stroke="#000" stroke-width="1.3"/>
<rect x="385.80" y="25.50" width="3.80" height="3.80" fill="#000"/>
<text transform="translate(398.6,29.5) scale(1.06,1)" font-size="6.0">KG1a</text>
<line x1="382.8" y1="35.9" x2="392.8" y2="35.9" stroke="#000" stroke-width="1.2" stroke-dasharray="1.5,1.5"/>
<polygon points="387.70,33.50 389.90,37.70 385.50,37.70" fill="#fff" stroke="#000" stroke-width="1.1"/>
<text transform="translate(398.6,38.3) scale(1.06,1)" font-size="6.0">Kasumi-1</text>
<text transform="translate(2.6,174.0) scale(1.1,1)" font-size="11.2">D</text>
<line x1="36.5" y1="202.2" x2="36.5" y2="300" stroke="#000" stroke-width="1"/>
<line x1="34.8" y1="300.5" x2="37" y2="300.5" stroke="#000" stroke-width="0.9"/>
<text transform="translate(33.699999999999996,302.304)" font-size="6.4" text-anchor="end">0</text>
<line x1="34.8" y1="280.5" x2="37" y2="280.5" stroke="#000" stroke-width="0.9"/>
<text transform="translate(33.699999999999996,282.804)" font-size="6.4" text-anchor="end">10</text>
<line x1="34.8" y1="260.5" x2="37" y2="260.5" stroke="#000" stroke-width="0.9"/>
<text transform="translate(33.699999999999996,263.304)" font-size="6.4" text-anchor="end">20</text>
<line x1="34.8" y1="241.5" x2="37" y2="241.5" stroke="#000" stroke-width="0.9"/>
<text transform="translate(33.699999999999996,243.804)" font-size="6.4" text-anchor="end">30</text>
<line x1="34.8" y1="222.5" x2="37" y2="222.5" stroke="#000" stroke-width="0.9"/>
<text transform="translate(33.699999999999996,224.304)" font-size="6.4" text-anchor="end">40</text>
<line x1="34.8" y1="202.5" x2="37" y2="202.5" stroke="#000" stroke-width="0.9"/>
<text transform="translate(33.699999999999996,204.804)" font-size="6.4" text-anchor="end">50</text>
<line x1="37" y1="300.5" x2="142.8" y2="300.5" stroke="#000" stroke-width="1"/>
<line x1="55.5" y1="300" x2="55.5" y2="302" stroke="#000" stroke-width="0.9"/>
<line x1="90.5" y1="300" x2="90.5" y2="302" stroke="#000" stroke-width="0.9"/>
<line x1="125.5" y1="300" x2="125.5" y2="302" stroke="#000" stroke-width="0.9"/>
<rect x="42.5" y="298.83" width="11.5" height="1.17" fill="#b4b4b4"/>
<rect x="57.5" y="298.245" width="12" height="1.755" fill="#000"/>
<rect x="78.5" y="299.22" width="11.5" height="0.78" fill="#b4b4b4"/>
<rect x="92.5" y="298.245" width="11.5" height="1.755" fill="#000"/>
<rect x="113" y="296.1" width="11.5" height="3.9" fill="#b4b4b4"/>
<rect x="128" y="222" width="11.5" height="78" fill="#000"/>
<line x1="133.5" y1="216.3" x2="133.5" y2="222" stroke="#000" stroke-width="0.8"/>
<line x1="132.2" y1="216.5" x2="135.2" y2="216.5" stroke="#000" stroke-width="0.8"/>
<line x1="132.2" y1="222.5" x2="135.2" y2="222.5" stroke="#000" stroke-width="0.8"/>
<line x1="118.5" y1="295.32" x2="118.5" y2="296.1" stroke="#888" stroke-width="0.7"/>
<line x1="117.4" y1="295.5" x2="120.0" y2="295.5" stroke="#888" stroke-width="0.7"/>
<line x1="117.4" y1="296.5" x2="120.0" y2="296.5" stroke="#888" stroke-width="0.7"/>
<text transform="translate(55.6,310.4) scale(1.1,1)" font-size="7.4" text-anchor="middle" textLength="14.73" lengthAdjust="spacingAndGlyphs">KG1</text>
<text transform="translate(90.0,310.4) scale(1.1,1)" font-size="7.4" text-anchor="middle" textLength="19.09" lengthAdjust="spacingAndGlyphs">KG1a</text>
<text transform="translate(124.4,310.4) scale(1.1,1)" font-size="7.4" text-anchor="middle" textLength="30.64" lengthAdjust="spacingAndGlyphs">Kasumi-1</text>
<rect x="44" y="202.6" width="11.5" height="3.6" fill="#b4b4b4"/>
<rect x="44" y="209.9" width="11.5" height="3.6" fill="#000"/>
<text transform="translate(62.9,206.8) scale(1.1,1)" font-size="6.8" textLength="22.73" lengthAdjust="spacingAndGlyphs">Control</text>
<text transform="translate(62.9,213.7) scale(1.1,1)" font-size="6.8" textLength="60.91" lengthAdjust="spacingAndGlyphs">JQ1 (5 µmol/L, 48 h)</text>
<text transform="translate(18.4,298.6) rotate(-90)" font-size="9.1" textLength="97.50" lengthAdjust="spacingAndGlyphs">Sub-G<tspan font-size="6" dy="1.6">1</tspan><tspan dy="-1.6"> population (%)</tspan></text>
<text transform="translate(168.6,174.2) scale(1.1,1)" font-size="11.2">E</text>
<line x1="198.5" y1="199" x2="198.5" y2="297.6" stroke="#000" stroke-width="1"/>
<line x1="196.0" y1="297.5" x2="198.2" y2="297.5" stroke="#000" stroke-width="0.9"/>
<text transform="translate(194.3,299.904)" font-size="6.4" text-anchor="end">0</text>
<line x1="196.0" y1="273.5" x2="198.2" y2="273.5" stroke="#000" stroke-width="0.9"/>
<text transform="translate(194.3,275.329)" font-size="6.4" text-anchor="end">25</text>
<line x1="196.0" y1="248.5" x2="198.2" y2="248.5" stroke="#000" stroke-width="0.9"/>
<text transform="translate(194.3,250.75400000000002)" font-size="6.4" text-anchor="end">50</text>
<line x1="196.0" y1="223.5" x2="198.2" y2="223.5" stroke="#000" stroke-width="0.9"/>
<text transform="translate(194.3,226.17900000000003)" font-size="6.4" text-anchor="end">75</text>
<line x1="196.0" y1="199.5" x2="198.2" y2="199.5" stroke="#000" stroke-width="0.9"/>
<text transform="translate(194.3,201.604)" font-size="6.4" text-anchor="end">100</text>
<line x1="198.2" y1="297.5" x2="340.5" y2="297.5" stroke="#000" stroke-width="1"/>
<line x1="234.5" y1="297.6" x2="234.5" y2="299.8" stroke="#000" stroke-width="0.8"/>
<line x1="304.5" y1="297.6" x2="304.5" y2="299.8" stroke="#000" stroke-width="0.8"/>
<line x1="234.5" y1="276.3" x2="234.5" y2="292.5" stroke="#555" stroke-width="0.8"/>
<line x1="222" y1="276.5" x2="246.3" y2="276.5" stroke="#555" stroke-width="0.8"/>
<line x1="222" y1="292.5" x2="246.3" y2="292.5" stroke="#555" stroke-width="0.8"/>
<rect x="211" y="280.2" width="46.5" height="6.2" fill="#a8a8a8" stroke="#444" stroke-width="0.8"/>
<line x1="211" y1="283.5" x2="257.5" y2="283.5" stroke="#444" stroke-width="0.9"/>
<line x1="304.5" y1="229.5" x2="304.5" y2="257.5" stroke="#333" stroke-width="0.8"/>
<line x1="293" y1="229.5" x2="316.3" y2="229.5" stroke="#333" stroke-width="0.8"/>
<line x1="293" y1="257.5" x2="316.3" y2="257.5" stroke="#333" stroke-width="0.8"/>
<rect x="281.3" y="233.8" width="47" height="19.5" fill="#000"/>
<text transform="translate(225.1,268.4) scale(1.1,1)" font-size="8.8" textLength="17.64" lengthAdjust="spacingAndGlyphs"><tspan font-style="italic">n</tspan> = 6</text>
<text transform="translate(295.2,220.4) scale(1.1,1)" font-size="8.8" textLength="18.45" lengthAdjust="spacingAndGlyphs"><tspan font-style="italic">n</tspan> = 7</text>
<text transform="translate(234.3,307.8) scale(1.1,1)" font-size="7.2" text-anchor="middle">JQ1-R</text>
<text transform="translate(304.6,308.4) scale(1.1,1)" font-size="7.2" text-anchor="middle">JQ1-S</text>
<text transform="translate(227.6,321.2) scale(1.1,1)" font-size="8.6" textLength="73.82" lengthAdjust="spacingAndGlyphs">JQ1 (5 µmol/L, 48 h)</text>
<text transform="translate(227.6,189.2) scale(1.1,1)" font-size="8.3" textLength="65.45" lengthAdjust="spacingAndGlyphs">Primary AML cells</text>
<text transform="translate(182.4,278.4) rotate(-90)" font-size="9.3" textLength="61.80" lengthAdjust="spacingAndGlyphs">Apoptosis (%)</text>
<text transform="translate(345.2,174.2) scale(1.1,1)" font-size="11.2">F</text>
<line x1="398" y1="195.5" x2="419.3" y2="195.5" stroke="#222" stroke-width="1.2"/>
<text transform="translate(407.4,193.4) rotate(-45)" font-size="8.2" textLength="15.42" lengthAdjust="spacingAndGlyphs">KG1</text>
<line x1="424.5" y1="195.5" x2="445.5" y2="195.5" stroke="#222" stroke-width="1.2"/>
<text transform="translate(433.9,193.4) rotate(-45)" font-size="8.2" textLength="19.59" lengthAdjust="spacingAndGlyphs">KG1a</text>
<line x1="452" y1="195.5" x2="473.8" y2="195.5" stroke="#222" stroke-width="1.2"/>
<text transform="translate(461.4,193.4) rotate(-45)" font-size="8.2" textLength="33.76" lengthAdjust="spacingAndGlyphs">Kasumi-1</text>
<text transform="translate(339.3,208.0) scale(1.1,1)" font-size="7.2" textLength="48.18" lengthAdjust="spacingAndGlyphs">JQ1 (5 µmol/L)</text>
<text transform="translate(404,207.8)" font-size="9.6" text-anchor="middle" style="stroke-width:0.55px">–</text>
<text transform="translate(414.6,208.0)" font-size="8.6" text-anchor="middle" style="stroke-width:0.45px">+</text>
<text transform="translate(428.2,207.8)" font-size="9.6" text-anchor="middle" style="stroke-width:0.55px">–</text>
<text transform="translate(441.2,208.0)" font-size="8.6" text-anchor="middle" style="stroke-width:0.45px">+</text>
<text transform="translate(456.8,207.8)" font-size="9.6" text-anchor="middle" style="stroke-width:0.55px">–</text>
<text transform="translate(467.7,208.0)" font-size="8.6" text-anchor="middle" style="stroke-width:0.45px">+</text>
<rect x="394.6" y="211.9" width="82.8" height="15.2" fill="#cbcbcb" stroke="#1a1a1a" stroke-width="1.2"/>
<rect x="394.6" y="229.5" width="82.8" height="15.4" fill="#cbcbcb" stroke="#1a1a1a" stroke-width="1.2"/>
<text transform="translate(390.2,223.5) scale(1.1,1)" font-size="7.3" text-anchor="end" textLength="21.00" lengthAdjust="spacingAndGlyphs">c-Myc</text>
<text transform="translate(390.2,239.2) scale(1.1,1)" font-size="7.3" text-anchor="end" textLength="32.36" lengthAdjust="spacingAndGlyphs">α-Tubulin</text>
<rect x="397.90" y="217.20" width="11.50" height="5.00" rx="2.50" fill="#101010" filter="url(#bl)"/>
<rect x="412.25" y="219.20" width="7.50" height="2.00" rx="1.00" fill="#bfbfbf" filter="url(#bl)"/>
<rect x="424.00" y="217.90" width="10.50" height="4.00" rx="2.00" fill="#333333" filter="url(#bl)"/>
<rect x="450.60" y="218.80" width="10.60" height="3.20" rx="1.60" fill="#1e1e1e" filter="url(#bl)"/>
<rect x="463.60" y="219.20" width="9.00" height="2.40" rx="1.20" fill="#8e8e8e" filter="url(#bl)"/>
<rect x="397.35" y="235.50" width="76.50" height="3.00" rx="1.50" fill="#5b5b5b" filter="url(#bl)"/>
<rect x="397.20" y="234.70" width="12.40" height="4.40" rx="2.20" fill="#101010" filter="url(#bl)"/>
<rect x="410.30" y="234.70" width="12.40" height="4.40" rx="2.20" fill="#1e1e1e" filter="url(#bl)"/>
<rect x="423.50" y="234.70" width="12.40" height="4.40" rx="2.20" fill="#252525" filter="url(#bl)"/>
<rect x="436.50" y="234.70" width="12.40" height="4.40" rx="2.20" fill="#1c1c1c" filter="url(#bl)"/>
<rect x="448.80" y="234.70" width="12.40" height="4.40" rx="2.20" fill="#252525" filter="url(#bl)"/>
<rect x="461.50" y="234.70" width="12.40" height="4.40" rx="2.20" fill="#202020" filter="url(#bl)"/>
<text transform="translate(426.3,262.0) scale(1.1,1)" font-size="7.4" text-anchor="middle" textLength="23.00" lengthAdjust="spacingAndGlyphs">JQ1-R</text>
<text transform="translate(488.5,262.0) scale(1.1,1)" font-size="7.4" text-anchor="middle" textLength="22.36" lengthAdjust="spacingAndGlyphs">JQ1-S</text>
<line x1="400.5" y1="264.5" x2="454.5" y2="264.5" stroke="#555" stroke-width="1.3"/>
<line x1="462.5" y1="264.5" x2="516.3" y2="264.5" stroke="#555" stroke-width="1.3"/>
<line x1="400.8" y1="302.5" x2="422.2" y2="302.5" stroke="#222" stroke-width="1.2"/>
<text transform="translate(411.3,299.7) rotate(-45)" font-size="8.9" textLength="32.94" lengthAdjust="spacingAndGlyphs">#YH0201</text>
<line x1="425" y1="302.5" x2="446" y2="302.5" stroke="#222" stroke-width="1.2"/>
<text transform="translate(433.2,299.7) rotate(-45)" font-size="8.9" textLength="32.94" lengthAdjust="spacingAndGlyphs">#YH0208</text>
<line x1="458.7" y1="302.5" x2="479.4" y2="302.5" stroke="#222" stroke-width="1.2"/>
<text transform="translate(472.4,299.7) rotate(-45)" font-size="8.9" textLength="32.94" lengthAdjust="spacingAndGlyphs">#YH0207</text>
<line x1="484.4" y1="302.5" x2="505.6" y2="302.5" stroke="#222" stroke-width="1.2"/>
<text transform="translate(495.0,299.7) rotate(-45)" font-size="8.9" textLength="32.94" lengthAdjust="spacingAndGlyphs">#YH0204</text>
<text transform="translate(340,314.2) scale(1.1,1)" font-size="7.2" textLength="48.18" lengthAdjust="spacingAndGlyphs">JQ1 (5 µmol/L)</text>
<text transform="translate(403,314.0)" font-size="9.6" text-anchor="middle" style="stroke-width:0.55px">–</text>
<text transform="translate(416.3,314.2)" font-size="8.6" text-anchor="middle" style="stroke-width:0.45px">+</text>
<text transform="translate(430.7,314.0)" font-size="9.6" text-anchor="middle" style="stroke-width:0.55px">–</text>
<text transform="translate(442.5,314.2)" font-size="8.6" text-anchor="middle" style="stroke-width:0.45px">+</text>
<text transform="translate(463,314.0)" font-size="9.6" text-anchor="middle" style="stroke-width:0.55px">–</text>
<text transform="translate(473.8,314.2)" font-size="8.6" text-anchor="middle" style="stroke-width:0.45px">+</text>
<text transform="translate(490,314.0)" font-size="9.6" text-anchor="middle" style="stroke-width:0.55px">–</text>
<text transform="translate(500,314.2)" font-size="8.6" text-anchor="middle" style="stroke-width:0.45px">+</text>
<rect x="395.6" y="316.1" width="56.6" height="14.8" fill="#cbcbcb" stroke="#1a1a1a" stroke-width="1.2"/>
<rect x="454.2" y="316.1" width="56.6" height="14.8" fill="#cbcbcb" stroke="#1a1a1a" stroke-width="1.2"/>
<rect x="395.6" y="333.0" width="56.6" height="15.6" fill="#cbcbcb" stroke="#1a1a1a" stroke-width="1.2"/>
<rect x="454.2" y="333.0" width="56.6" height="15.6" fill="#cbcbcb" stroke="#1a1a1a" stroke-width="1.2"/>
<text transform="translate(392,327.6) scale(1.1,1)" font-size="7.3" text-anchor="end" textLength="21.00" lengthAdjust="spacingAndGlyphs">c-Myc</text>
<text transform="translate(392,343.8) scale(1.1,1)" font-size="7.3" text-anchor="end" textLength="32.36" lengthAdjust="spacingAndGlyphs">α-Tubulin</text>
<rect x="397.90" y="321.70" width="10.20" height="3.40" rx="1.70" fill="#5b5b5b" filter="url(#bl)"/>
<rect x="410.95" y="322.30" width="10.50" height="2.60" rx="1.30" fill="#adadad" filter="url(#bl)"/>
<rect x="425.05" y="321.60" width="10.70" height="3.60" rx="1.80" fill="#4d4d4d" filter="url(#bl)"/>
<rect x="439.00" y="322.50" width="8.00" height="2.20" rx="1.10" fill="#bbbbbb" filter="url(#bl)"/>
<rect x="456.65" y="321.10" width="9.50" height="4.20" rx="2.10" fill="#181818" filter="url(#bl)"/>
<rect x="485.25" y="322.30" width="8.50" height="2.60" rx="1.30" fill="#9e9e9e" filter="url(#bl)"/>
<rect x="397.00" y="339.60" width="51.00" height="2.60" rx="1.30" fill="#666666" filter="url(#bl)"/>
<rect x="457.00" y="339.60" width="50.00" height="2.60" rx="1.30" fill="#666666" filter="url(#bl)"/>
<rect x="397.55" y="338.90" width="11.30" height="4.00" rx="2.00" fill="#1c1c1c" filter="url(#bl)"/>
<rect x="410.55" y="338.90" width="11.30" height="4.00" rx="2.00" fill="#1c1c1c" filter="url(#bl)"/>
<rect x="424.85" y="338.90" width="11.30" height="4.00" rx="2.00" fill="#1c1c1c" filter="url(#bl)"/>
<rect x="437.85" y="338.90" width="11.30" height="4.00" rx="2.00" fill="#1c1c1c" filter="url(#bl)"/>
<rect x="456.55" y="338.90" width="11.30" height="4.00" rx="2.00" fill="#1c1c1c" filter="url(#bl)"/>
<rect x="469.85" y="338.90" width="11.30" height="4.00" rx="2.00" fill="#1c1c1c" filter="url(#bl)"/>
<rect x="483.35" y="338.90" width="11.30" height="4.00" rx="2.00" fill="#1c1c1c" filter="url(#bl)"/>
<rect x="495.85" y="338.90" width="11.30" height="4.00" rx="2.00" fill="#1c1c1c" filter="url(#bl)"/>
<text transform="translate(2.6,372.0) scale(1.1,1)" font-size="11.2">G</text>
<rect x="31.8" y="381.3" width="9.4" height="3.2" fill="#b4b4b4"/>
<rect x="31.8" y="388.0" width="9.4" height="3.2" fill="#000"/>
<text transform="translate(47,385.4) scale(1.04,1)" font-size="6.4">Control</text>
<text transform="translate(47,392.1) scale(1.04,1)" font-size="6.4">JQ1</text>
<line x1="31.5" y1="404.6" x2="31.5" y2="498.3" stroke="#000" stroke-width="1"/>
<line x1="29.4" y1="498.5" x2="31.4" y2="498.5" stroke="#000" stroke-width="0.9"/>
<text transform="translate(27.4,500.604)" font-size="6.4" text-anchor="end">0</text>
<line x1="29.4" y1="474.5" x2="31.4" y2="474.5" stroke="#000" stroke-width="0.9"/>
<text transform="translate(27.4,477.279)" font-size="6.4" text-anchor="end">25</text>
<line x1="29.4" y1="451.5" x2="31.4" y2="451.5" stroke="#000" stroke-width="0.9"/>
<text transform="translate(27.4,453.95399999999995)" font-size="6.4" text-anchor="end">50</text>
<line x1="29.4" y1="428.5" x2="31.4" y2="428.5" stroke="#000" stroke-width="0.9"/>
<text transform="translate(27.4,430.62899999999996)" font-size="6.4" text-anchor="end">75</text>
<line x1="29.4" y1="404.5" x2="31.4" y2="404.5" stroke="#000" stroke-width="0.9"/>
<text transform="translate(27.4,407.304)" font-size="6.4" text-anchor="end">100</text>
<line x1="31.2" y1="498.5" x2="133" y2="498.5" stroke="#000" stroke-width="1"/>
<line x1="48.5" y1="498.3" x2="48.5" y2="500.5" stroke="#000" stroke-width="0.9"/>
<line x1="82.5" y1="498.3" x2="82.5" y2="500.5" stroke="#000" stroke-width="0.9"/>
<line x1="116.5" y1="498.3" x2="116.5" y2="500.5" stroke="#000" stroke-width="0.9"/>
<line x1="41.5" y1="492.8" x2="41.5" y2="494.3" stroke="#8a8a8a" stroke-width="0.9"/>
<line x1="39.45" y1="492.5" x2="43.05" y2="492.5" stroke="#8a8a8a" stroke-width="0.9"/>
<rect x="35.5" y="494.3" width="11.5" height="4.0" fill="#b4b4b4"/>
<line x1="55.5" y1="483" x2="55.5" y2="485.8" stroke="#000" stroke-width="0.9"/>
<line x1="53.6" y1="482.5" x2="57.199999999999996" y2="482.5" stroke="#000" stroke-width="0.9"/>
<rect x="49.5" y="485.8" width="11.799999999999997" height="12.5" fill="#000"/>
<line x1="75.5" y1="490.5" x2="75.5" y2="494.3" stroke="#8a8a8a" stroke-width="0.9"/>
<line x1="73.60000000000001" y1="490.5" x2="77.2" y2="490.5" stroke="#8a8a8a" stroke-width="0.9"/>
<rect x="69.5" y="494.3" width="11.799999999999997" height="4.0" fill="#b4b4b4"/>
<line x1="89.5" y1="483.3" x2="89.5" y2="488" stroke="#000" stroke-width="0.9"/>
<line x1="87.60000000000001" y1="483.5" x2="91.2" y2="483.5" stroke="#000" stroke-width="0.9"/>
<rect x="83.8" y="488" width="11.200000000000003" height="10.300000000000011" fill="#000"/>
<line x1="108.5" y1="490" x2="108.5" y2="492.5" stroke="#8a8a8a" stroke-width="0.9"/>
<line x1="107.2" y1="490.5" x2="110.8" y2="490.5" stroke="#8a8a8a" stroke-width="0.9"/>
<rect x="103" y="492.5" width="12" height="5.800000000000011" fill="#b4b4b4"/>
<line x1="123.5" y1="416.7" x2="123.5" y2="424.2" stroke="#555" stroke-width="0.9"/>
<line x1="121.35000000000001" y1="416.5" x2="124.95" y2="416.5" stroke="#555" stroke-width="0.9"/>
<rect x="117" y="424.2" width="12.300000000000011" height="74.10000000000002" fill="#000"/>
<line x1="55.3" y1="397.5" x2="123.8" y2="397.5" stroke="#000" stroke-width="1"/>
<line x1="55.5" y1="397.3" x2="55.5" y2="414.6" stroke="#000" stroke-width="1"/>
<line x1="55.5" y1="434.7" x2="55.5" y2="478" stroke="#000" stroke-width="1"/>
<line x1="88.5" y1="397.3" x2="88.5" y2="401.5" stroke="#000" stroke-width="1"/>
<line x1="88.5" y1="416.7" x2="88.5" y2="475" stroke="#000" stroke-width="1"/>
<line x1="123.5" y1="397.3" x2="123.5" y2="410.4" stroke="#000" stroke-width="1"/>
<text transform="translate(41.5,426.9) scale(1.1,1)" font-size="8.8" font-style="italic" textLength="26.91" lengthAdjust="spacingAndGlyphs"><tspan font-style="italic">P</tspan> &lt; 0.05</text>
<text transform="translate(74.7,414.2) scale(1.1,1)" font-size="8.8" font-style="italic" textLength="26.91" lengthAdjust="spacingAndGlyphs"><tspan font-style="italic">P</tspan> &lt; 0.05</text>
<text transform="translate(48.2,507.6) scale(1.08,1)" font-size="6.3" text-anchor="middle">KG1</text>
<text transform="translate(82.0,507.6) scale(1.08,1)" font-size="6.3" text-anchor="middle">KG1a</text>
<text transform="translate(115.9,507.6) scale(1.04,1)" font-size="6.3" text-anchor="middle">Kasumi-1</text>
<text transform="translate(6.3,487.8) rotate(-90)" font-size="8.6" textLength="68.90" lengthAdjust="spacingAndGlyphs">AnnexinV<tspan font-size="5.2" dy="-3">+</tspan><tspan dy="3">7-AAD</tspan><tspan font-size="5.2" dy="-3">+</tspan></text>
<text transform="translate(16.0,488.7) rotate(-90)" font-size="8.6" textLength="74.90" lengthAdjust="spacingAndGlyphs">of CD34<tspan font-size="5.2" dy="-3">+</tspan><tspan dy="3">CD38</tspan><tspan font-size="5.2" dy="-3">+</tspan><tspan dy="3" font-weight="normal"> (%)</tspan></text>
<rect x="171.10000000000002" y="381.3" width="9.4" height="3.2" fill="#b4b4b4"/>
<rect x="171.10000000000002" y="388.0" width="9.4" height="3.2" fill="#000"/>
<text transform="translate(186.3,385.4) scale(1.04,1)" font-size="6.4">Control</text>
<text transform="translate(186.3,392.1) scale(1.04,1)" font-size="6.4">JQ1</text>
<line x1="171.5" y1="404.3" x2="171.5" y2="498.3" stroke="#000" stroke-width="1"/>
<line x1="168.6" y1="498.5" x2="171.2" y2="498.5" stroke="#000" stroke-width="0.9"/>
<text transform="translate(166.79999999999998,500.604)" font-size="6.4" text-anchor="end">0</text>
<line x1="168.6" y1="479.5" x2="171.2" y2="479.5" stroke="#000" stroke-width="0.9"/>
<text transform="translate(166.79999999999998,481.804)" font-size="6.4" text-anchor="end">10</text>
<line x1="168.6" y1="460.5" x2="171.2" y2="460.5" stroke="#000" stroke-width="0.9"/>
<text transform="translate(166.79999999999998,463.004)" font-size="6.4" text-anchor="end">20</text>
<line x1="168.6" y1="441.5" x2="171.2" y2="441.5" stroke="#000" stroke-width="0.9"/>
<text transform="translate(166.79999999999998,444.204)" font-size="6.4" text-anchor="end">30</text>
<line x1="168.6" y1="423.5" x2="171.2" y2="423.5" stroke="#000" stroke-width="0.9"/>
<text transform="translate(166.79999999999998,425.404)" font-size="6.4" text-anchor="end">40</text>
<line x1="168.6" y1="404.5" x2="171.2" y2="404.5" stroke="#000" stroke-width="0.9"/>
<text transform="translate(166.79999999999998,406.604)" font-size="6.4" text-anchor="end">50</text>
<line x1="171.2" y1="498.5" x2="270.5" y2="498.5" stroke="#000" stroke-width="1"/>
<line x1="187.5" y1="498.3" x2="187.5" y2="500.5" stroke="#000" stroke-width="0.9"/>
<line x1="220.5" y1="498.3" x2="220.5" y2="500.5" stroke="#000" stroke-width="0.9"/>
<line x1="254.5" y1="498.3" x2="254.5" y2="500.5" stroke="#000" stroke-width="0.9"/>
<line x1="180.5" y1="495.48" x2="180.5" y2="496.232" stroke="#8a8a8a" stroke-width="0.9"/>
<line x1="178.2" y1="495.5" x2="181.8" y2="495.5" stroke="#8a8a8a" stroke-width="0.9"/>
<rect x="175" y="496.232" width="10" height="2.0679999999999836" fill="#b4b4b4"/>
<line x1="194.5" y1="493.036" x2="194.5" y2="493.6" stroke="#000" stroke-width="0.9"/>
<line x1="192.6" y1="493.5" x2="196.20000000000002" y2="493.5" stroke="#000" stroke-width="0.9"/>
<rect x="188.8" y="493.6" width="11.199999999999989" height="4.699999999999989" fill="#000"/>
<line x1="213.5" y1="495.104" x2="213.5" y2="496.232" stroke="#8a8a8a" stroke-width="0.9"/>
<line x1="212.0" y1="495.5" x2="215.60000000000002" y2="495.5" stroke="#8a8a8a" stroke-width="0.9"/>
<rect x="208.8" y="496.232" width="10.0" height="2.0679999999999836" fill="#b4b4b4"/>
<line x1="227.5" y1="490.216" x2="227.5" y2="490.78000000000003" stroke="#000" stroke-width="0.9"/>
<line x1="225.95" y1="490.5" x2="229.55" y2="490.5" stroke="#000" stroke-width="0.9"/>
<rect x="222.5" y="490.78000000000003" width="10.5" height="7.519999999999982" fill="#000"/>
<line x1="247.5" y1="492.848" x2="247.5" y2="495.856" stroke="#8a8a8a" stroke-width="0.9"/>
<line x1="245.7" y1="492.5" x2="249.3" y2="492.5" stroke="#8a8a8a" stroke-width="0.9"/>
<rect x="242" y="495.856" width="11" height="2.444000000000017" fill="#b4b4b4"/>
<line x1="260.5" y1="406.5" x2="260.5" y2="416.4" stroke="#777" stroke-width="0.9"/>
<line x1="259.09999999999997" y1="406.5" x2="262.7" y2="406.5" stroke="#777" stroke-width="0.9"/>
<rect x="255.5" y="416.4" width="10.800000000000011" height="81.90000000000003" fill="#000"/>
<line x1="193.2" y1="398.5" x2="260.9" y2="398.5" stroke="#000" stroke-width="1"/>
<line x1="193.5" y1="398.5" x2="193.5" y2="429.1" stroke="#000" stroke-width="1"/>
<line x1="193.5" y1="444.6" x2="193.5" y2="491.3" stroke="#000" stroke-width="1"/>
<line x1="227.5" y1="398.5" x2="227.5" y2="413.3" stroke="#000" stroke-width="1"/>
<line x1="227.5" y1="428.1" x2="227.5" y2="484.5" stroke="#000" stroke-width="1"/>
<line x1="260.5" y1="398.5" x2="260.5" y2="403.1" stroke="#000" stroke-width="1"/>
<text transform="translate(180.1,437.9) scale(1.1,1)" font-size="8.8" font-style="italic" textLength="27.45" lengthAdjust="spacingAndGlyphs"><tspan font-style="italic">P</tspan> &lt; 0.05</text>
<text transform="translate(212.5,425.6) scale(1.1,1)" font-size="8.8" font-style="italic" textLength="26.91" lengthAdjust="spacingAndGlyphs"><tspan font-style="italic">P</tspan> &lt; 0.05</text>
<text transform="translate(186.8,507.6) scale(1.08,1)" font-size="6.3" text-anchor="middle">KG1</text>
<text transform="translate(220.0,507.6) scale(1.08,1)" font-size="6.3" text-anchor="middle">KG1a</text>
<text transform="translate(253.4,507.6) scale(1.04,1)" font-size="6.3" text-anchor="middle">Kasumi-1</text>
<text transform="translate(147.6,486.6) rotate(-90)" font-size="8.6" textLength="69.30" lengthAdjust="spacingAndGlyphs">AnnexinV<tspan font-size="5.2" dy="-3">+</tspan><tspan dy="3">7-AAD</tspan><tspan font-size="5.2" dy="-3">+</tspan></text>
<text transform="translate(157.0,488.5) rotate(-90)" font-size="8.6" textLength="74.10" lengthAdjust="spacingAndGlyphs">of CD34<tspan font-size="5.2" dy="-3">+</tspan><tspan dy="3">CD38</tspan><tspan font-size="5.2" dy="-3">–</tspan><tspan dy="3" font-weight="normal"> (%)</tspan></text>
<text transform="translate(287.3,372.0) scale(1.1,1)" font-size="11.2">H</text>
<rect x="320.3" y="381.3" width="9.4" height="3.2" fill="#b4b4b4"/>
<rect x="320.3" y="388.0" width="9.4" height="3.2" fill="#000"/>
<text transform="translate(337,385.4) scale(1.04,1)" font-size="6.4">Control</text>
<text transform="translate(337,392.1) scale(1.04,1)" font-size="6.4">JQ1</text>
<line x1="320.5" y1="404.6" x2="320.5" y2="498.8" stroke="#000" stroke-width="1"/>
<line x1="317.40000000000003" y1="498.5" x2="320.3" y2="498.5" stroke="#000" stroke-width="0.9"/>
<text transform="translate(315.70000000000005,501.104)" font-size="6.4" text-anchor="end">0</text>
<line x1="317.40000000000003" y1="479.5" x2="320.3" y2="479.5" stroke="#000" stroke-width="0.9"/>
<text transform="translate(315.70000000000005,482.25399999999996)" font-size="6.4" text-anchor="end">10</text>
<line x1="317.40000000000003" y1="461.5" x2="320.3" y2="461.5" stroke="#000" stroke-width="0.9"/>
<text transform="translate(315.70000000000005,463.404)" font-size="6.4" text-anchor="end">20</text>
<line x1="317.40000000000003" y1="442.5" x2="320.3" y2="442.5" stroke="#000" stroke-width="0.9"/>
<text transform="translate(315.70000000000005,444.554)" font-size="6.4" text-anchor="end">30</text>
<line x1="317.40000000000003" y1="423.5" x2="320.3" y2="423.5" stroke="#000" stroke-width="0.9"/>
<text transform="translate(315.70000000000005,425.70399999999995)" font-size="6.4" text-anchor="end">40</text>
<line x1="317.40000000000003" y1="404.5" x2="320.3" y2="404.5" stroke="#000" stroke-width="0.9"/>
<text transform="translate(315.70000000000005,406.854)" font-size="6.4" text-anchor="end">50</text>
<line x1="320.3" y1="498.5" x2="397.8" y2="498.5" stroke="#000" stroke-width="1"/>
<line x1="339.5" y1="498.8" x2="339.5" y2="501" stroke="#000" stroke-width="0.8"/>
<line x1="378.5" y1="498.8" x2="378.5" y2="501" stroke="#000" stroke-width="0.8"/>
<line x1="331.5" y1="473.4" x2="331.5" y2="476.8" stroke="#8a8a8a" stroke-width="0.9"/>
<line x1="330.09999999999997" y1="473.5" x2="333.7" y2="473.5" stroke="#8a8a8a" stroke-width="0.9"/>
<rect x="325.2" y="476.8" width="13.400000000000034" height="22.0" fill="#b4b4b4"/>
<line x1="347.5" y1="468.1" x2="347.5" y2="473.6" stroke="#000" stroke-width="0.9"/>
<line x1="345.75" y1="468.5" x2="349.35" y2="468.5" stroke="#000" stroke-width="0.9"/>
<rect x="341.1" y="473.6" width="12.899999999999977" height="25.19999999999999" fill="#000"/>
<line x1="369.5" y1="485.3" x2="369.5" y2="486.7" stroke="#8a8a8a" stroke-width="0.9"/>
<line x1="368.15000000000003" y1="485.5" x2="371.75000000000006" y2="485.5" stroke="#8a8a8a" stroke-width="0.9"/>
<rect x="363.3" y="486.7" width="13.300000000000011" height="12.100000000000023" fill="#b4b4b4"/>
<line x1="385.5" y1="412" x2="385.5" y2="424.5" stroke="#777" stroke-width="0.9"/>
<line x1="384.09999999999997" y1="412.5" x2="387.7" y2="412.5" stroke="#777" stroke-width="0.9"/>
<rect x="379.4" y="424.5" width="13.0" height="74.30000000000001" fill="#000"/>
<line x1="347" y1="399.5" x2="385.5" y2="399.5" stroke="#000" stroke-width="1"/>
<line x1="346.5" y1="399.3" x2="346.5" y2="415" stroke="#000" stroke-width="1"/>
<line x1="346.5" y1="422.5" x2="346.5" y2="466" stroke="#000" stroke-width="1"/>
<line x1="385.5" y1="399.3" x2="385.5" y2="407.5" stroke="#000" stroke-width="1"/>
<text transform="translate(337,421.5) scale(1.1,1)" font-size="8.8" font-style="italic" textLength="26.64" lengthAdjust="spacingAndGlyphs"><tspan font-style="italic">P</tspan> &lt; 0.01</text>
<text transform="translate(293.4,487.5) rotate(-90)" font-size="8.6" textLength="69.00" lengthAdjust="spacingAndGlyphs">AnnexinV<tspan font-size="5.2" dy="-3">+</tspan><tspan dy="3">7-AAD</tspan><tspan font-size="5.2" dy="-3">+</tspan></text>
<text transform="translate(303.3,488.5) rotate(-90)" font-size="8.6" textLength="71.70" lengthAdjust="spacingAndGlyphs">of CD34<tspan font-size="5.2" dy="-3">+</tspan><tspan dy="3">CD38</tspan><tspan font-size="5.2" dy="-3">+</tspan><tspan dy="3" font-weight="normal">(%)</tspan></text>
<text transform="translate(351.4,513.2) rotate(-35)" font-size="8.3" text-anchor="end">JQ1-R-</text>
<text transform="translate(351.4,513.2) rotate(-35)" font-size="8.3" text-anchor="end"><tspan x="0" y="11.0">AML cells (<tspan font-style="italic">n</tspan> = 6)</tspan></text>
<text transform="translate(387.9,511.7) rotate(-35)" font-size="8.3" text-anchor="end">JQ1-S-</text>
<text transform="translate(387.9,511.7) rotate(-35)" font-size="8.3" text-anchor="end"><tspan x="0" y="11.0">AML cells (<tspan font-style="italic">n</tspan> = 7)</tspan></text>
<rect x="443.6" y="381.3" width="9.4" height="3.2" fill="#b4b4b4"/>
<rect x="443.6" y="388.0" width="9.4" height="3.2" fill="#000"/>
<text transform="translate(460.5,385.4) scale(1.04,1)" font-size="6.4">Control</text>
<text transform="translate(460.5,392.1) scale(1.04,1)" font-size="6.4">JQ1</text>
<line x1="443.5" y1="404.6" x2="443.5" y2="499.2" stroke="#000" stroke-width="1"/>
<line x1="441.0" y1="499.5" x2="443.3" y2="499.5" stroke="#000" stroke-width="0.9"/>
<text transform="translate(439.0,501.50399999999996)" font-size="6.4" text-anchor="end">0</text>
<line x1="441.0" y1="480.5" x2="443.3" y2="480.5" stroke="#000" stroke-width="0.9"/>
<text transform="translate(439.0,482.554)" font-size="6.4" text-anchor="end">10</text>
<line x1="441.0" y1="461.5" x2="443.3" y2="461.5" stroke="#000" stroke-width="0.9"/>
<text transform="translate(439.0,463.604)" font-size="6.4" text-anchor="end">20</text>
<line x1="441.0" y1="442.5" x2="443.3" y2="442.5" stroke="#000" stroke-width="0.9"/>
<text transform="translate(439.0,444.65399999999994)" font-size="6.4" text-anchor="end">30</text>
<line x1="441.0" y1="423.5" x2="443.3" y2="423.5" stroke="#000" stroke-width="0.9"/>
<text transform="translate(439.0,425.70399999999995)" font-size="6.4" text-anchor="end">40</text>
<line x1="441.0" y1="404.5" x2="443.3" y2="404.5" stroke="#000" stroke-width="0.9"/>
<text transform="translate(439.0,406.75399999999996)" font-size="6.4" text-anchor="end">50</text>
<line x1="443.3" y1="499.5" x2="520" y2="499.5" stroke="#000" stroke-width="1"/>
<line x1="462.5" y1="499.2" x2="462.5" y2="501.4" stroke="#000" stroke-width="0.8"/>
<line x1="500.5" y1="499.2" x2="500.5" y2="501.4" stroke="#000" stroke-width="0.8"/>
<line x1="454.5" y1="491.3" x2="454.5" y2="493.1" stroke="#8a8a8a" stroke-width="0.9"/>
<line x1="452.95" y1="491.5" x2="456.55" y2="491.5" stroke="#8a8a8a" stroke-width="0.9"/>
<rect x="448" y="493.1" width="13.5" height="6.099999999999966" fill="#b4b4b4"/>
<line x1="470.5" y1="485.5" x2="470.5" y2="487.2" stroke="#000" stroke-width="0.9"/>
<line x1="468.59999999999997" y1="485.5" x2="472.2" y2="485.5" stroke="#000" stroke-width="0.9"/>
<rect x="464.2" y="487.2" width="12.400000000000034" height="12.0" fill="#000"/>
<line x1="492.5" y1="481.1" x2="492.5" y2="484.6" stroke="#8a8a8a" stroke-width="0.9"/>
<line x1="491.15" y1="481.5" x2="494.75" y2="481.5" stroke="#8a8a8a" stroke-width="0.9"/>
<rect x="486.2" y="484.6" width="13.5" height="14.599999999999966" fill="#b4b4b4"/>
<line x1="508.5" y1="438.8" x2="508.5" y2="448.3" stroke="#777" stroke-width="0.9"/>
<line x1="506.59999999999997" y1="438.5" x2="510.2" y2="438.5" stroke="#777" stroke-width="0.9"/>
<rect x="502" y="448.3" width="12.799999999999955" height="50.89999999999998" fill="#000"/>
<line x1="470" y1="414.5" x2="508" y2="414.5" stroke="#000" stroke-width="1"/>
<line x1="470.5" y1="414.5" x2="470.5" y2="421" stroke="#000" stroke-width="1"/>
<line x1="470.5" y1="442.5" x2="470.5" y2="484.5" stroke="#000" stroke-width="1"/>
<line x1="508.5" y1="414.5" x2="508.5" y2="438.8" stroke="#000" stroke-width="1"/>
<text transform="translate(460.5,438.3) scale(1.1,1)" font-size="8.8" font-style="italic" textLength="26.36" lengthAdjust="spacingAndGlyphs"><tspan font-style="italic">P</tspan> &lt; 0.01</text>
<text transform="translate(413.3,487.5) rotate(-90)" font-size="8.6" textLength="69.00" lengthAdjust="spacingAndGlyphs">AnnexinV<tspan font-size="5.2" dy="-3">+</tspan><tspan dy="3">7-AAD</tspan><tspan font-size="5.2" dy="-3">+</tspan></text>
<text transform="translate(423.5,488.7) rotate(-90)" font-size="8.6" textLength="71.50" lengthAdjust="spacingAndGlyphs">of CD34<tspan font-size="5.2" dy="-3">+</tspan><tspan dy="3">CD38</tspan><tspan font-size="5.2" dy="-3">–</tspan><tspan dy="3" font-weight="normal">(%)</tspan></text>
<text transform="translate(472.8,512.6) rotate(-35)" font-size="8.3" text-anchor="end">JQ1-R-</text>
<text transform="translate(472.8,512.6) rotate(-35)" font-size="8.3" text-anchor="end"><tspan x="0" y="11.0">AML cells (<tspan font-style="italic">n</tspan> = 6)</tspan></text>
<text transform="translate(509.2,510.4) rotate(-35)" font-size="8.3" text-anchor="end">JQ1-S-</text>
<text transform="translate(509.2,510.4) rotate(-35)" font-size="8.3" text-anchor="end"><tspan x="0" y="11.0">AML cells (<tspan font-style="italic">n</tspan> = 7)</tspan></text>
</svg></body></html>
